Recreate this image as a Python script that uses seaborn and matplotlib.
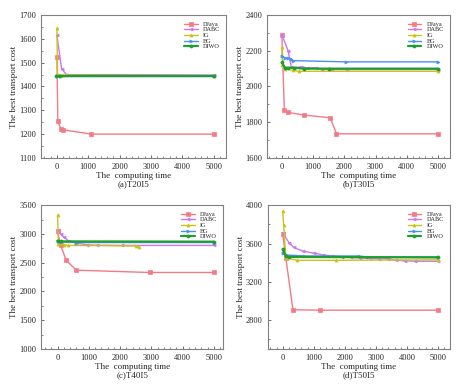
import numpy as np
import pandas as pd
import seaborn as sns
import matplotlib.pyplot as plt
from matplotlib.ticker import AutoMinorLocator

sns.set_style('ticks')
plt.rcParams['font.family'] = ['Liberation Serif', 'DejaVu Serif']

algos = ['DJaya', 'DABC', 'IG', 'BG', 'DIWO']
colors = {'DJaya': '#F47A86', 'DABC': '#CC77F0', 'IG': '#C8C41A',
          'BG': '#4A90F0', 'DIWO': '#1E9E2E'}
markers = {'DJaya': 's', 'DABC': '<', 'IG': '^', 'BG': '>', 'DIWO': 'o'}

# (a) T20I5
a_x = {'DJaya': [0, 30, 130, 200, 1100, 5000],
       'DABC': [0, 150, 300, 5000],
       'IG': [0, 20, 200, 5000],
       'BG': [0, 100, 5000],
       'DIWO': [-30, 100, 5000]}
a_y = {'DJaya': [1525, 1255, 1220, 1218, 1200, 1200],
       'DABC': [1615, 1475, 1450, 1448],
       'IG': [1645, 1450, 1448, 1445],
       'BG': [1445, 1445, 1445],
       'DIWO': [1445, 1445, 1445]}

# (b) T30I5
b_x = {'DJaya': [0, 80, 200, 700, 1550, 1750, 5000],
       'DABC': [0, 200, 300, 400, 600, 800, 1100, 1300, 1600, 2100, 5000],
       'IG': [0, 20, 100, 350, 550, 5000],
       'BG': [0, 100, 200, 300, 350, 2050, 5000],
       'DIWO': [0, 100, 200, 400, 700, 1500, 5000]}
b_y = {'DJaya': [2290, 1870, 1855, 1840, 1825, 1735, 1735],
       'DABC': [2290, 2200, 2110, 2105, 2110, 2105, 2105, 2095, 2095, 2095, 2095],
       'IG': [2220, 2120, 2100, 2090, 2085, 2085],
       'BG': [2170, 2160, 2158, 2155, 2145, 2138, 2138],
       'DIWO': [2135, 2105, 2105, 2105, 2100, 2100, 2100]}

# (c) T40I5
c_x = {'DJaya': [0, 100, 280, 600, 2950, 5000],
       'DABC': [0, 100, 200, 350, 600, 950, 1250, 2050, 5000],
       'IG': [0, 30, 200, 350, 2500, 2600],
       'BG': [0, 100, 600, 5000],
       'DIWO': [0, 100, 5000]}
c_y = {'DJaya': [3050, 2800, 2540, 2370, 2330, 2330],
       'DABC': [3070, 3000, 2940, 2880, 2840, 2810, 2805, 2800, 2800],
       'IG': [3330, 2820, 2810, 2800, 2790, 2780],
       'BG': [2870, 2860, 2850, 2850],
       'DIWO': [2880, 2870, 2865]}

# (d) T50I5
d_x = {'DJaya': [0, 100, 330, 1200, 5000],
       'DABC': [0, 200, 350, 650, 1000, 1300, 1600, 1900, 2200, 2500, 2800,
                3100, 3400, 3650, 3950, 4250, 5000],
       'IG': [0, 30, 100, 450, 1700, 5000],
       'BG': [0, 100, 700, 2450, 2750, 5000],
       'DIWO': [0, 100, 200, 5000]}
d_y = {'DJaya': [3700, 3450, 2910, 2905, 2905],
       'DABC': [3710, 3610, 3560, 3520, 3500, 3480, 3470, 3460, 3455, 3450,
                3445, 3440, 3440, 3425, 3420, 3415, 3415],
       'IG': [3940, 3790, 3450, 3425, 3425, 3430],
       'BG': [3500, 3480, 3470, 3470, 3460, 3460],
       'DIWO': [3540, 3470, 3460, 3455]}

panels = [
    (a_x, a_y, '(a)T20I5', (1100, 1700), [1100, 1200, 1300, 1400, 1500, 1600, 1700],
     [0.087, 0.592, 0.390, 0.369], (-500, 5400)),
    (b_x, b_y, '(b)T30I5', (1600, 2400), [1600, 1800, 2000, 2200, 2400],
     [0.563, 0.592, 0.386, 0.369], (-480, 5380)),
    (c_x, c_y, '(c)T40I5', (1000, 3500), [1000, 1500, 2000, 2500, 3000, 3500],
     [0.087, 0.098, 0.384, 0.372], (-520, 5300)),
    (d_x, d_y, '(d)T50I5', (2500, 4000), [2800, 3200, 3600, 4000],
     [0.565, 0.098, 0.384, 0.372], (-480, 5380)),
]

fig = plt.figure(figsize=(4.74, 3.87), dpi=100)

for xs, ys, title, ylim, yticks, pos, xlim in panels:
    ax = fig.add_axes(pos)
    for name in algos:
        sns.lineplot(x=xs[name], y=ys[name], ax=ax, sort=False,
                     color=colors[name], marker=markers[name],
                     markersize=2.2, markeredgewidth=0.5,
                     markeredgecolor=colors[name],
                     linewidth=1.6 if name == 'DIWO' else 1.0,
                     label=name, errorbar=None)
    ax.set_xlim(*xlim)
    ax.set_ylim(*ylim)
    ax.set_xticks([0, 1000, 2000, 3000, 4000, 5000])
    ax.set_yticks(yticks)
    ax.xaxis.set_minor_locator(AutoMinorLocator(5))
    ax.yaxis.set_minor_locator(AutoMinorLocator(2))
    ax.tick_params(which='both', direction='in', labelsize=6, color='#555555')
    ax.tick_params(which='major', length=2.5, width=0.6)
    ax.tick_params(which='minor', length=1.5, width=0.5)
    for s in ax.spines.values():
        s.set_color('#808080')
        s.set_linewidth(0.8)
    ax.set_ylabel('The best transport cost', fontsize=6.5, labelpad=1)
    ax.set_xlabel('The  computing time\n' + title, fontsize=6.5,
                  labelpad=1, linespacing=1.0)
    leg = ax.legend(loc='upper right', frameon=False, fontsize=4.5,
                    handlelength=2.2, labelspacing=0.05, borderaxespad=0.6)

fig.savefig('out.png', dpi=100)
